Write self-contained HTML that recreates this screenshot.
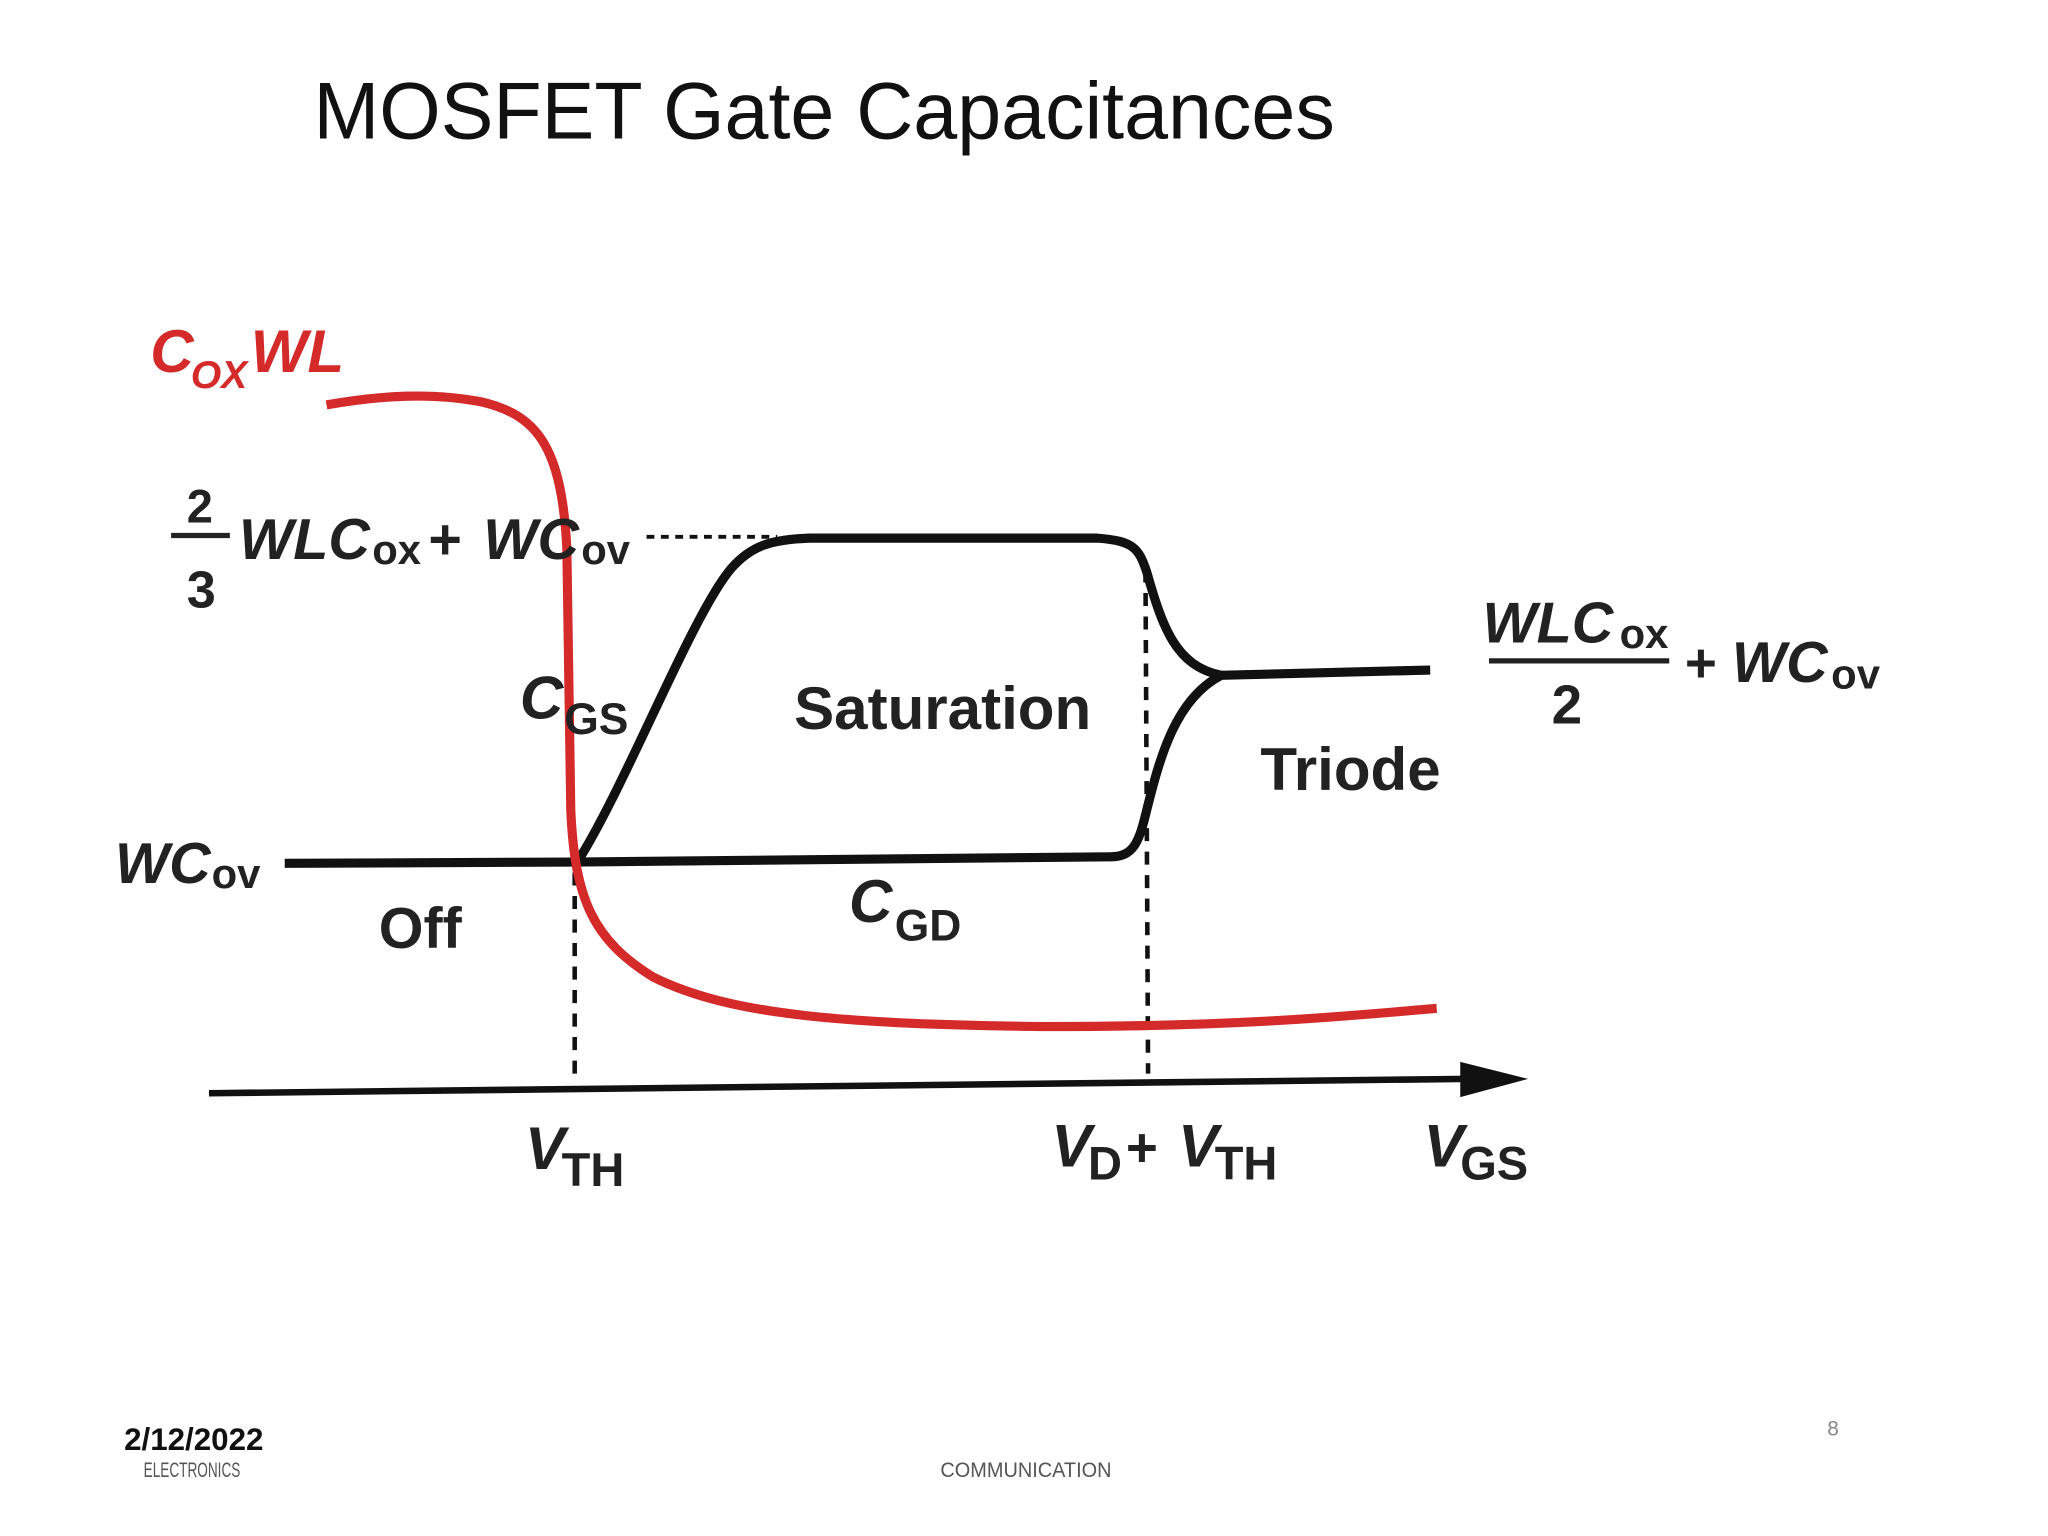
<!DOCTYPE html>
<html><head><meta charset="utf-8"><style>
html,body{margin:0;padding:0;background:#fff;}
svg{display:block;}
text{font-family:"Liberation Sans",sans-serif;}
.b{font-weight:bold;fill:#222;}
</style></head><body>
<svg width="2048" height="1536" viewBox="0 0 1568 1176" preserveAspectRatio="none" xmlns="http://www.w3.org/2000/svg">
<rect width="1568" height="1176" fill="#fff"/>
<text x="240" y="106" font-size="62" fill="#111" textLength="782" lengthAdjust="spacingAndGlyphs">MOSFET Gate Capacitances</text>

<!-- dotted / dashed -->
<line x1="495" y1="411" x2="595" y2="411" stroke="#111" stroke-width="3" stroke-dasharray="6,5"/>
<line x1="440" y1="668" x2="440" y2="826" stroke="#111" stroke-width="3.5" stroke-dasharray="10,8"/>
<line x1="877" y1="436" x2="879" y2="822" stroke="#111" stroke-width="3.5" stroke-dasharray="10,8"/>

<!-- axis -->
<line x1="160" y1="837" x2="1125" y2="826" stroke="#111" stroke-width="5"/>
<polygon points="1118,813 1170,826 1118,840" fill="#111"/>

<!-- black curves -->
<path d="M218,661 L440,660 L850,656 C868,656 872,645 878,620 C888,580 900,535 935,517 L1095,513" fill="none" stroke="#111" stroke-width="7"/>
<path d="M442,660 C480,600 530,470 560,435 C575,418 590,413 620,412 L840,412 C868,414 872,420 878,438 C890,480 900,510 935,517" fill="none" stroke="#111" stroke-width="7"/>

<!-- red curve -->
<path d="M250,310 C290,303 330,300 370,308 C410,318 430,340 434,420 L437,620 C440,690 455,720 500,748 C560,778 650,784 800,786 C950,786 1030,778 1100,772" fill="none" stroke="#d42a2a" stroke-width="7"/>

<!-- labels -->
<text x="115" y="285" font-size="46" font-weight="bold" font-style="italic" fill="#d42a2a">C</text>
<text x="146" y="297" font-size="30" font-weight="bold" font-style="italic" fill="#d42a2a">OX</text>
<text x="192" y="285" font-size="46" font-weight="bold" font-style="italic" fill="#d42a2a">WL</text>

<text x="143" y="400" font-size="36" class="b">2</text>
<line x1="131" y1="410" x2="176" y2="410" stroke="#222" stroke-width="4"/>
<text x="143" y="465" font-size="40" class="b">3</text>
<text x="183" y="428" font-size="44" class="b" font-style="italic">WLC</text>
<text x="285" y="432" font-size="32" class="b">ox</text>
<text x="328" y="428" font-size="44" class="b">+</text>
<text x="370" y="428" font-size="44" class="b" font-style="italic">WC</text>
<text x="445" y="432" font-size="32" class="b">ov</text>

<text x="88" y="676" font-size="44" class="b" font-style="italic">WC</text>
<text x="162" y="680" font-size="32" class="b">ov</text>

<text x="398" y="550" font-size="46" class="b" font-style="italic">C</text>
<text x="432" y="562" font-size="34" class="b">GS</text>
<text x="608" y="558" font-size="46" class="b">Saturation</text>
<text x="965" y="605" font-size="46" class="b">Triode</text>
<text x="290" y="726" font-size="44" class="b">Off</text>
<text x="650" y="706" font-size="46" class="b" font-style="italic">C</text>
<text x="685" y="720" font-size="34" class="b">GD</text>

<text x="1135" y="492" font-size="44" class="b" font-style="italic">WLC</text>
<text x="1240" y="496" font-size="32" class="b">ox</text>
<line x1="1140" y1="506" x2="1278" y2="506" stroke="#222" stroke-width="4"/>
<text x="1188" y="554" font-size="42" class="b">2</text>
<text x="1290" y="522" font-size="42" class="b">+</text>
<text x="1326" y="522" font-size="44" class="b" font-style="italic">WC</text>
<text x="1402" y="527" font-size="32" class="b">ov</text>

<text x="402" y="895" font-size="46" class="b" font-style="italic">V</text>
<text x="430" y="908" font-size="36" class="b">TH</text>
<text x="805" y="893" font-size="46" class="b" font-style="italic">V</text>
<text x="833" y="903" font-size="36" class="b">D</text>
<text x="862" y="893" font-size="42" class="b">+</text>
<text x="902" y="893" font-size="46" class="b" font-style="italic">V</text>
<text x="930" y="903" font-size="36" class="b">TH</text>
<text x="1090" y="893" font-size="46" class="b" font-style="italic">V</text>
<text x="1118" y="903" font-size="36" class="b">GS</text>

<!-- footer -->
<text x="95" y="1110" font-size="24" font-weight="bold" fill="#111">2/12/2022</text>
<text x="110" y="1131" font-size="16" fill="#555" textLength="74" lengthAdjust="spacingAndGlyphs">ELECTRONICS</text>
<text x="720" y="1131" font-size="16" fill="#555" textLength="131" lengthAdjust="spacingAndGlyphs">COMMUNICATION</text>
<text x="1399" y="1099" font-size="16" fill="#888">8</text>
</svg>
</body></html>
